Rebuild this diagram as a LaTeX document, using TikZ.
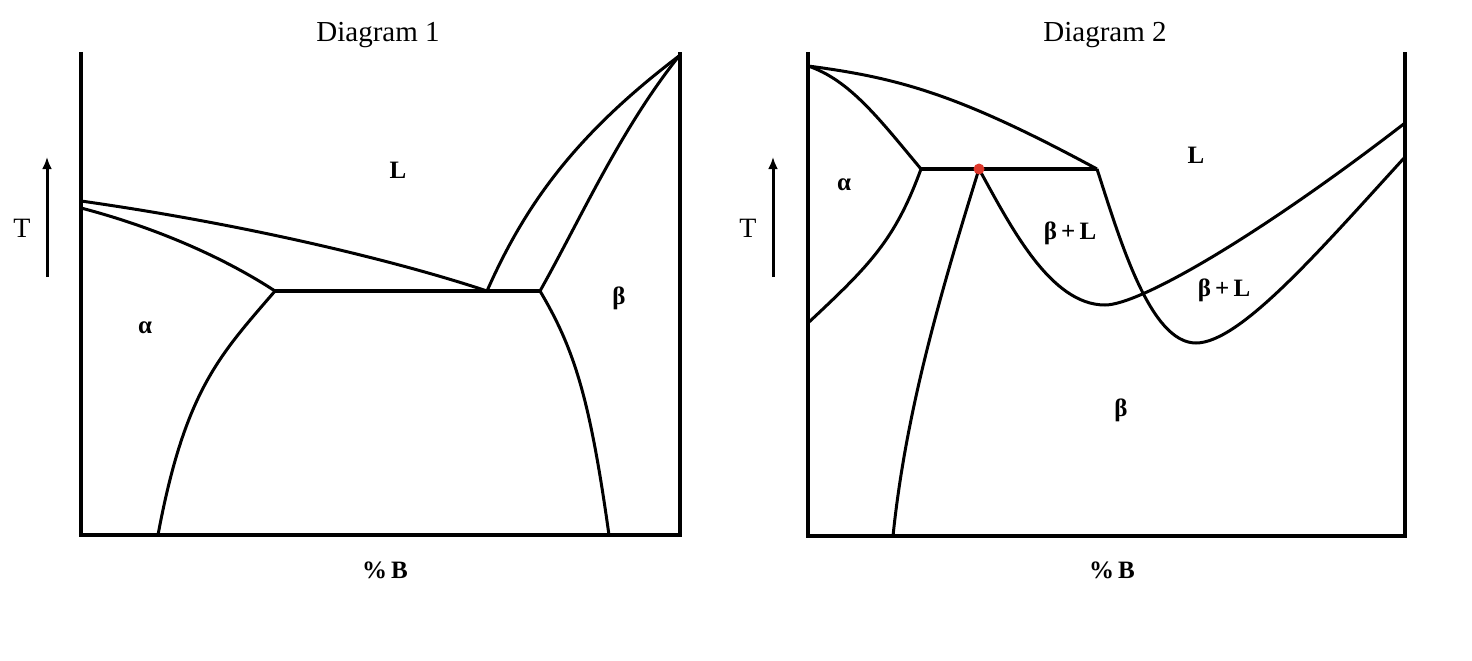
\documentclass[tikz,border=0pt]{standalone}
\usepackage{fontspec}
\setmainfont{Liberation Serif}
\usetikzlibrary{arrows.meta}
\definecolor{dotred}{RGB}{222,56,44}
\begin{document}
\begin{tikzpicture}[x=1pt,y=-1pt,
  axis/.style={line width=3.3pt, line join=miter},
  curve/.style={line width=3pt},
  tie/.style={line width=3.6pt},
  tarrow/.style={line width=3pt, -{Latex[length=12pt,width=10pt]}},
  title/.style={font=\fontsize{29}{30}\selectfont},
  lbl/.style={font=\bfseries\fontsize{25}{27}\selectfont},
  tlbl/.style={font=\fontsize{28}{30}\selectfont}]
\useasboundingbox (0,0) rectangle (1472,661);
% ---------- Diagram 1 ----------
\node[title] (title1) at (378,35) {Diagram 1};
\coordinate (a1) at (81,52);
\coordinate (b1) at (81,535);
\coordinate (c1) at (680,535);
\coordinate (d1) at (680,52);
\draw[axis] (a1) -- (b1) -- (c1) -- (d1);
\coordinate (t1s) at (47,277);
\coordinate (t1e) at (47,157);
\draw[tarrow] (t1s) -- (t1e);
\node[tlbl] (T1) at (22,228) {T};
\coordinate (liqA1) at (81,201);
\coordinate (solA1) at (81,208);
\coordinate (eut1) at (487,291);
\coordinate (e1l) at (275,291);
\coordinate (e1r) at (540,291);
\coordinate (mB1) at (679,56);
\coordinate (s1l) at (158,535);
\coordinate (s1r) at (609,535);
% liquidus and solidus (alpha side)
\draw[curve] (liqA1) .. controls (250,225) and (400,262) .. (eut1);
\draw[curve] (solA1) .. controls (150,226) and (220,255) .. (e1l);
% eutectic line
\draw[tie] (e1l) -- (e1r);
% beta liquidus and solidus
\draw[curve] (eut1) .. controls (525,205) and (575,135) .. (mB1);
\draw[curve] (e1r) .. controls (580,220) and (620,130) .. (mB1);
% solvus lines
\draw[curve] (e1l) .. controls (220,355) and (185,390) .. (s1l);
\draw[curve] (e1r) .. controls (575,350) and (590,400) .. (s1r);
% labels
\node[lbl] (L1) at (398,170) {L};
\node[lbl] (al1) at (145,328) {α};
\node[lbl] (be1) at (619,298) {β};
\node[lbl] (x1) at (385,570) {\%\,B};
% ---------- Diagram 2 ----------
\node[title] (title2) at (1105,35) {Diagram 2};
\coordinate (a2) at (808,52);
\coordinate (b2) at (808,536);
\coordinate (c2) at (1405,536);
\coordinate (d2) at (1405,52);
\draw[axis] (a2) -- (b2) -- (c2) -- (d2);
\coordinate (t2s) at (773,277);
\coordinate (t2e) at (773,157);
\draw[tarrow] (t2s) -- (t2e);
\node[tlbl] (T2) at (748,228) {T};
\coordinate (mA2) at (808,66);
\coordinate (p2l) at (921,169);
\coordinate (p2r) at (1097,169);
\coordinate (pk) at (979,169);
\coordinate (sA2) at (808,323);
\coordinate (sB2) at (893,536);
\coordinate (min1) at (1105,305);
\coordinate (min2) at (1196,343);
\coordinate (r1) at (1405,123);
\coordinate (r2) at (1405,157);
% liquidus / solidus alpha side
\draw[curve] (mA2) .. controls (900,78) and (960,95) .. (p2r);
\draw[curve] (mA2) .. controls (850,80) and (880,120) .. (p2l);
% horizontal line
\draw[tie] (p2l) -- (p2r);
% alpha solvus
\draw[curve] (p2l) .. controls (895,240) and (870,265) .. (sA2);
% beta solvus (left)
\draw[curve] (pk) .. controls (935,310) and (905,420) .. (sB2);
% beta liquidus
\draw[curve] (pk) .. controls (1010,225) and (1050,305) .. (min1)
  .. controls (1140,305) and (1260,235) .. (r1);
% beta solidus
\draw[curve] (p2r) .. controls (1120,240) and (1150,343) .. (min2)
  .. controls (1240,343) and (1320,250) .. (r2);
% special point
\node[circle, fill=dotred, inner sep=0pt, minimum size=11pt] (pt) at (pk) {};
% labels
\node[lbl] (L2) at (1196,155) {L};
\node[lbl] (al2) at (844,185) {α};
\node[lbl] (bl2a) at (1070,233) {β\,+\,L};
\node[lbl] (bl2b) at (1224,290) {β\,+\,L};
\node[lbl] (be2) at (1121,410) {β};
\node[lbl] (x2) at (1112,570) {\%\,B};
\end{tikzpicture}
\end{document}
